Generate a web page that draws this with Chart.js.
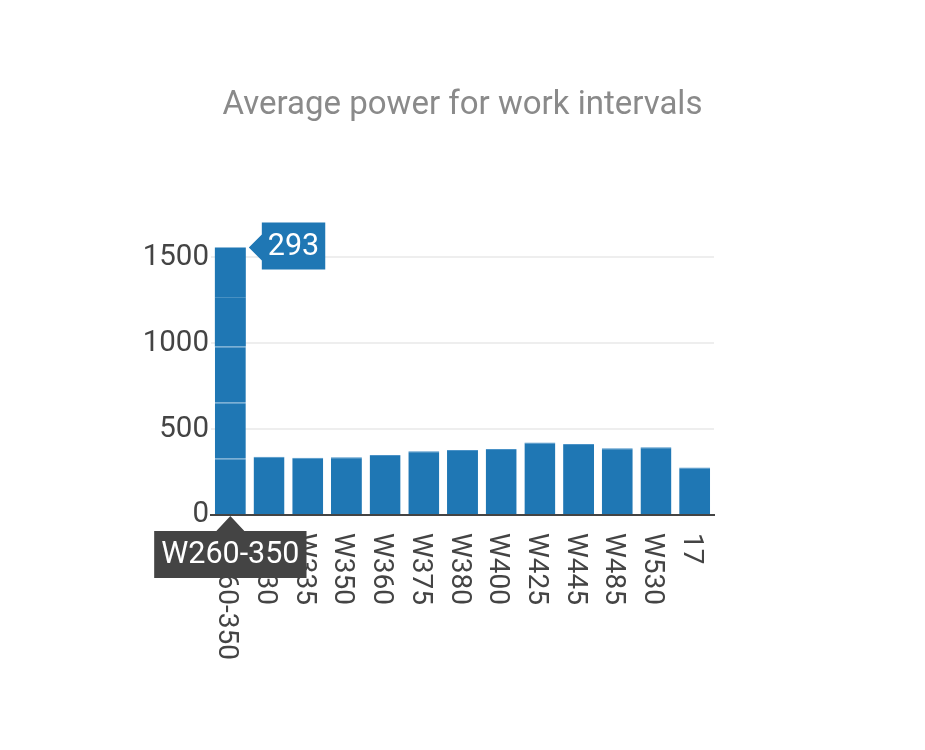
<!DOCTYPE html>
<html>
<head>
<meta charset="utf-8">
<script src="https://cdn.jsdelivr.net/npm/chart.js@4.4.0/dist/chart.umd.min.js"></script>
<style>
  html, body { margin: 0; padding: 0; background: #fff; }
  #wrap { width: 925px; height: 750px; }
</style>
</head>
<body>
<div id="wrap"><canvas id="powerChart"></canvas></div>
<script>
// interval categories
const intervals = ['W260-350', 'W330', 'W335', 'W350', 'W360', 'W375', 'W380',
  'W400', 'W425', 'W445', 'W485', 'W530', '17'];

// average power, first block of each category
const basePower = [327, 340, 333, 337, 350, 372, 379, 384, 422, 414, 389, 395, 276];
// extra intervals stacked on the first category
const extra1 = [327];
const extra2 = [327];
const extra3 = [284];
const extra4 = [293];

const yTicks = [0, 500, 1000, 1500];

const blue = '#1f77b4';
const font = 'Roboto, "Noto Sans", sans-serif';

function seg(vals, withLine) {
  return {
    data: vals,
    backgroundColor: blue,
    borderColor: '#4a92c7',
    borderWidth: withLine ? { top: 1, left: 0, right: 0, bottom: 0 } : 0,
    borderSkipped: false,
    stack: 'p',
    barPercentage: 0.8,
    categoryPercentage: 1.0
  };
}

// draws the rotated category labels and the two hover labels
const overlay = {
  id: 'overlay',
  afterDraw(chart) {
    const ctx = chart.ctx;
    const x = chart.scales.x;
    const area = chart.chartArea;

    ctx.save();
    ctx.fillStyle = '#444';
    ctx.font = '28px ' + font;
    ctx.textAlign = 'left';
    ctx.textBaseline = 'middle';
    intervals.forEach((lab, i) => {
      const px = x.getPixelForTick(i);
      ctx.save();
      ctx.translate(px - 4, area.bottom + 18);
      ctx.rotate(Math.PI / 2);
      ctx.fillText(lab, 0, 0);
      ctx.restore();
    });

    // value hover label on the top segment
    const topBar = chart.getDatasetMeta(4).data[0];
    const tipX = topBar.x + topBar.width / 2 + 3;
    const tipY = topBar.y;
    ctx.font = '30.5px ' + font;
    const valTxt = String(extra4[0]);
    const vw = ctx.measureText(valTxt).width + 12;
    const bx = tipX + 13, bh = 47;
    ctx.fillStyle = blue;
    ctx.beginPath();
    ctx.moveTo(tipX, tipY);
    ctx.lineTo(bx, tipY - 13);
    ctx.lineTo(bx, tipY - 25);
    ctx.lineTo(bx + vw, tipY - 25);
    ctx.lineTo(bx + vw, tipY - 25 + bh);
    ctx.lineTo(bx, tipY - 25 + bh);
    ctx.lineTo(bx, tipY + 13);
    ctx.closePath();
    ctx.fill();
    ctx.fillStyle = '#fff';
    ctx.textAlign = 'left';
    ctx.fillText(valTxt, bx + 6, tipY - 25 + bh / 2 + 1);

    // category hover label under the axis
    const cx = x.getPixelForTick(0);
    const cy = area.bottom + 1;
    const catTxt = intervals[0];
    const cw = ctx.measureText(catTxt).width + 14;
    const top = cy + 15;
    ctx.fillStyle = '#444';
    ctx.beginPath();
    ctx.moveTo(cx, cy);
    ctx.lineTo(cx + 14, top);
    ctx.lineTo(cx + cw / 2, top);
    ctx.lineTo(cx + cw / 2, top + 47);
    ctx.lineTo(cx - cw / 2, top + 47);
    ctx.lineTo(cx - cw / 2, top);
    ctx.lineTo(cx - 14, top);
    ctx.closePath();
    ctx.fill();
    ctx.fillStyle = '#fff';
    ctx.textAlign = 'center';
    ctx.fillText(catTxt, cx, top + 24);
    ctx.restore();
  }
};

const ctx = document.getElementById('powerChart').getContext('2d');
new Chart(ctx, {
  type: 'bar',
  data: {
    labels: intervals,
    datasets: [
      seg(basePower, true),
      seg(extra1, true),
      seg(extra2, true),
      seg(extra3, false),
      seg(extra4, false)
    ]
  },
  options: {
    responsive: true,
    maintainAspectRatio: false,
    animation: false,
    layout: { padding: 0 },
    plugins: {
      legend: { display: false },
      tooltip: { enabled: false },
      title: {
        display: true,
        text: 'Average power for work intervals',
        color: '#8a8a8a',
        font: { family: font, size: 33, weight: 'normal', lineHeight: 1.2 },
        padding: { top: 86, bottom: 107 }
      }
    },
    scales: {
      x: {
        stacked: true,
        grid: { display: false },
        border: { display: true, color: '#444', width: 2 },
        ticks: { display: false },
        afterFit(scale) { scale.height = 235; }
      },
      y: {
        stacked: true,
        min: 0,
        max: 1645,
        afterBuildTicks(scale) { scale.ticks = yTicks.map(v => ({ value: v })); },
        grid: { color: '#eeeeee', lineWidth: 2, drawTicks: false },
        border: { display: false },
        ticks: {
          color: '#444',
          padding: 2,
          font: { family: font, size: 29.5 },
          callback: v => String(v)
        },
        afterFit(scale) { scale.width = 211; }
      },
      // empty right margin so the title stays centred on the page
      yRight: {
        position: 'right',
        display: true,
        grid: { display: false },
        border: { display: false },
        ticks: { display: false },
        afterFit(scale) { scale.width = 211; }
      }
    }
  },
  plugins: [overlay]
});
</script>
</body>
</html>
